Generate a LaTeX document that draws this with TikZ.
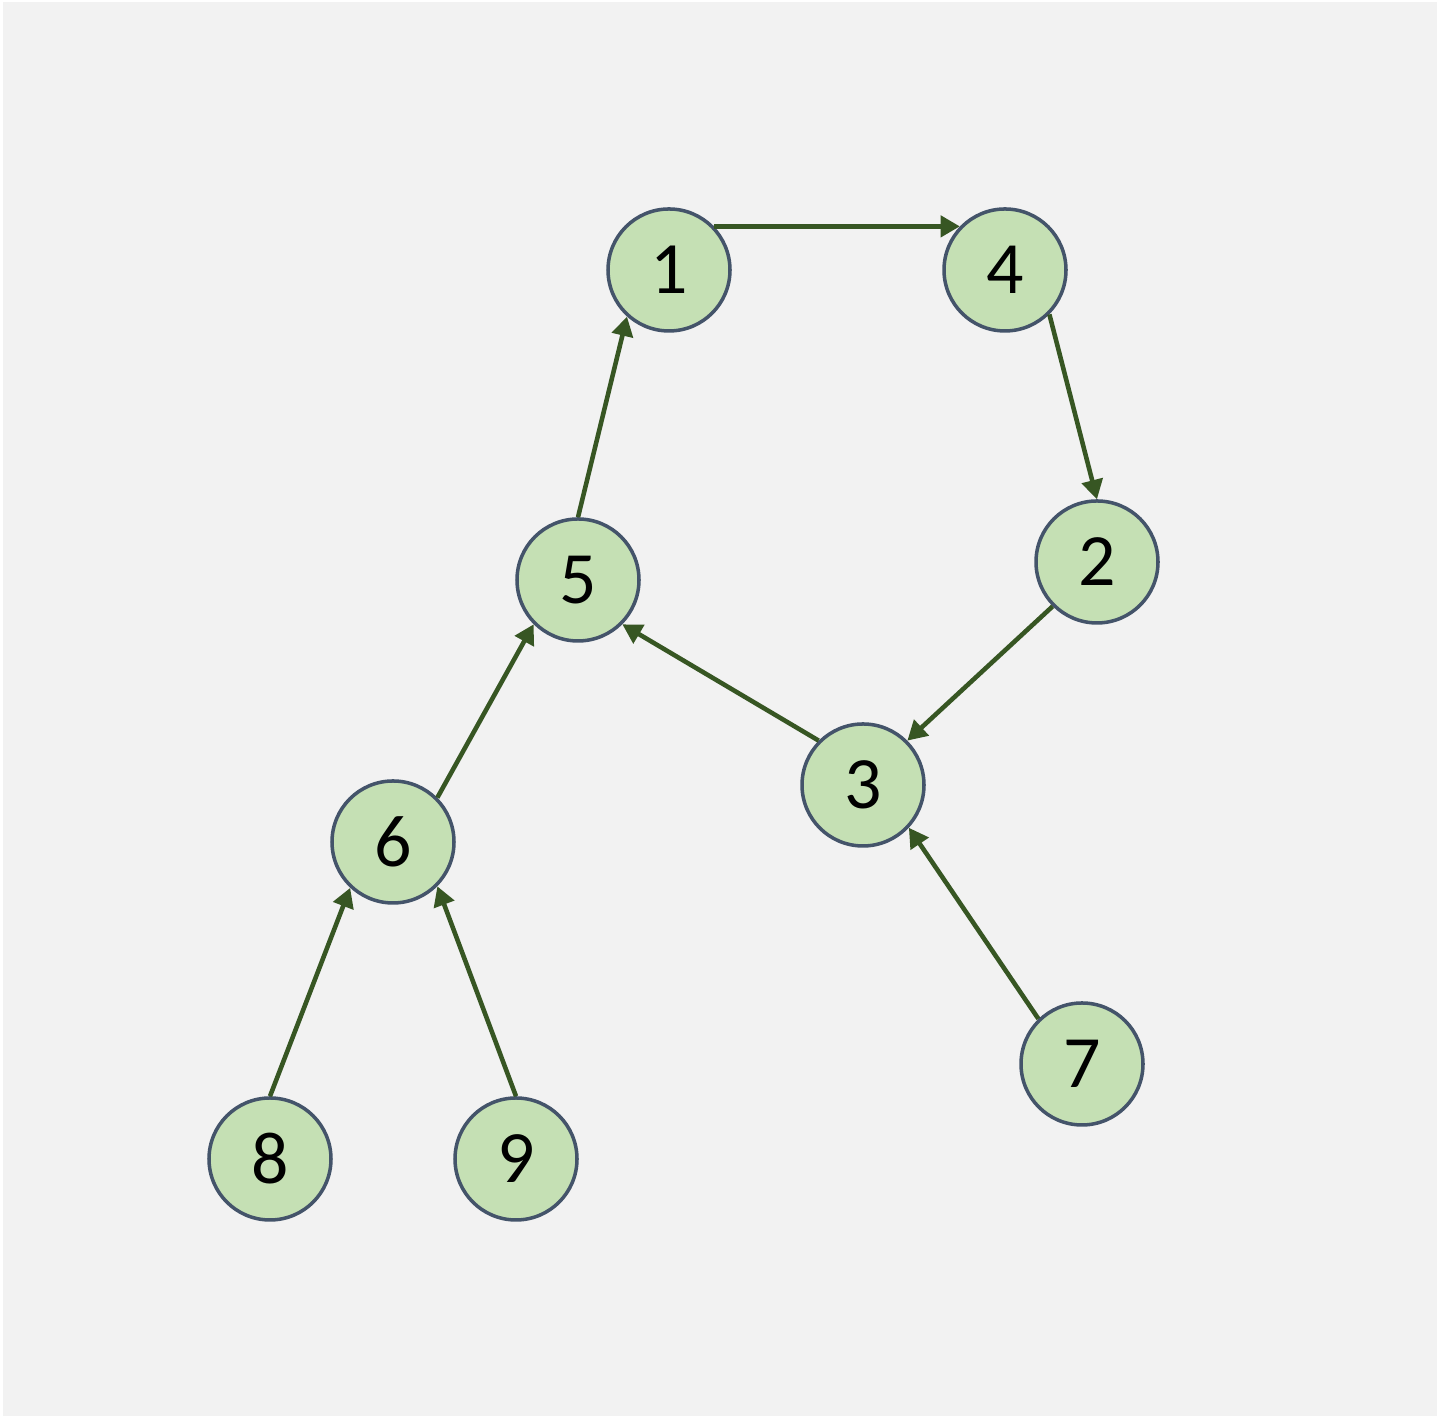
\documentclass[tikz,border=0pt]{standalone}
\usepackage{fontspec}
\setmainfont{Carlito}
\usetikzlibrary{arrows.meta}
\definecolor{bggray}{HTML}{F2F2F2}
\definecolor{nodefill}{HTML}{C5E0B4}
\definecolor{nodeedge}{HTML}{44546A}
\definecolor{arrowgreen}{HTML}{375623}

\begin{document}
\begin{tikzpicture}[auto]
    \tikzstyle{vertex} = [circle, draw=nodeedge, fill=nodefill, line width=1pt, minimum size=1.22cm, inner sep=0pt, font=\fontsize{21}{25}\selectfont];
    \tikzstyle{line} = [draw=arrowgreen, line width=1.3pt, -{Triangle[length=5.5pt,width=6pt]}];
    \useasboundingbox (0,0) rectangle (14.4,14.18);
    \fill[bggray] (0.03,0.02) rectangle (14.37,14.16);
    \node[vertex] (n1) at (6.69,11.48) {1};
    \node[vertex] (n4) at (10.05,11.48) {4};
    \node[vertex] (n2) at (10.97,8.56) {2};
    \node[vertex] (n5) at (5.78,8.38) {5};
    \node[vertex] (n3) at (8.63,6.33) {3};
    \node[vertex] (n6) at (3.93,5.76) {6};
    \node[vertex] (n7) at (10.82,3.54) {7};
    \node[vertex] (n8) at (2.70,2.59) {8};
    \node[vertex] (n9) at (5.16,2.59) {9};
    \tikzstyle{every path}=[line]
    \path (n1.44) -- (n4.136);
    \path (n4.-45) -- (n2.north);
    \path (n2.-135) -- (n3.45);
    \path (n3.135) -- (n5.-45);
    \path (n5.north) -- (n1.-132);
    \path (n6.45) -- (n5.-135);
    \path (n8.north) -- (n6.-133);
    \path (n9.north) -- (n6.-45);
    \path (n7.134) -- (n3.-43);
\end{tikzpicture}
\end{document}
